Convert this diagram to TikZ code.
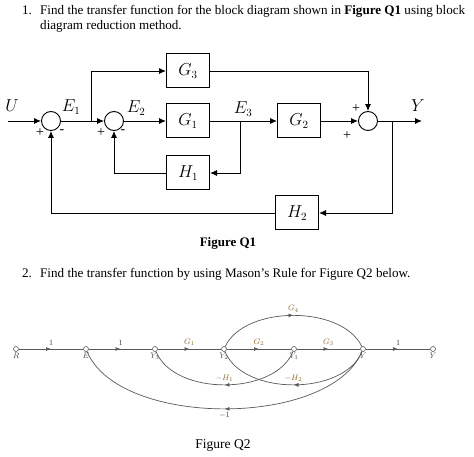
\documentclass[tikz,border=0pt]{standalone}
\usepackage{fontspec}
\setmainfont{Liberation Serif}
\usepackage{tikz}
\usetikzlibrary{arrows.meta,shapes,calc}
\usetikzlibrary{decorations.markings}
\definecolor{gaincol}{rgb}{0.55,0.42,0.18}
\definecolor{sfgline}{rgb}{0.35,0.35,0.35}
\tikzstyle{qtext}=[anchor=base west, inner sep=0pt, font=\fontsize{13.1}{16}\selectfont]
\tikzstyle{blk}=[draw, line width=1pt, minimum width=43pt, minimum height=34pt,
inner sep=0pt, font=\fontsize{16}{19}\selectfont]
\tikzstyle{blab}=[font=\fontsize{16}{19}\selectfont]
\tikzstyle{sgn}=[font=\fontsize{14}{16}\selectfont, inner sep=0pt]
\tikzstyle{summ}=[circle, draw, minimum size=19pt, inner sep=0pt, line width=0.9pt]
\tikzstyle{sig}=[-{Latex[length=7pt,width=6pt]}, line width=0.9pt]
\tikzstyle{sfnode}=[circle, draw=sfgline, fill=white, minimum size=5pt, inner sep=0pt, line width=0.6pt]
\tikzstyle{branch}=[sfgline, line width=0.7pt, postaction={decorate, decoration={markings,
mark=at position 0.5 with {\arrow{Latex[length=5pt,width=4pt]}}}}]
\tikzstyle{gain}=[font=\fontsize{8}{9}\selectfont, text=gaincol, inner sep=1pt]
\tikzstyle{vlab}=[font=\fontsize{8}{9}\selectfont, text=sfgline!80!black, inner sep=1pt]

\begin{document}
\begin{tikzpicture}[x=1pt, y=-1pt]
\useasboundingbox (0,0) rectangle (474,457);
% question texts
\node[qtext] (qonenum) at (22,15) {1.};
\node[qtext] (qone) at (40,15) {Find the transfer function for the block diagram shown in \textbf{Figure Q1} using block};
\node[qtext] (qonetwo) at (40,30) {diagram reduction method.};
\node[qtext] (qtwonum) at (22,277) {2.};
\node[qtext] (qtwo) at (40,277) {Find the transfer function by using Mason's Rule for Figure Q2 below.};

% block diagram Q1
\coordinate (u) at (8,121);
\node[summ] (sumone) at (51,121) {};
\coordinate (jone) at (91,121);
\node[summ] (sumtwo) at (114,121) {};
\node[blk] (gone) at (188,121) {$G_1$};
\node[blk] (gthree) at (188,71) {$G_3$};
\node[blk] (hone) at (188,173) {$H_1$};
\coordinate (ethree) at (240,121);
\node[blk] (gtwo) at (299,121) {$G_2$};
\node[summ] (sumthree) at (368,121) {};
\coordinate (ybr) at (392,121);
\coordinate (yend) at (422,121);
\node[blk] (htwo) at (297,213) {$H_2$};

\draw[sig] (u) -- (sumone.west);
\draw[sig] (sumone.east) -- (sumtwo.west);
\draw[sig] (jone) |- (gthree.west);
\draw[sig] (sumtwo.east) -- (gone.west);
\draw[sig] (gone.east) -- (gtwo.west);
\draw[sig] (ethree) |- (hone.east);
\draw[sig] (hone.west) -| (sumtwo.south);
\draw[sig] (gthree.east) -| (sumthree.north);
\draw[sig] (gtwo.east) -- (sumthree.west);
\draw[sig] (sumthree.east) -- (yend);
\draw[sig] (ybr) |- (htwo.east);
\draw[sig] (htwo.west) -| (sumone.south);

\node[blab] (ulab) at (12,106) {$U$};
\node[blab] (eonelab) at (71,107) {$E_1$};
\node[blab] (etwolab) at (136,108) {$E_2$};
\node[blab] (ethreelab) at (243,109) {$E_3$};
\node[blab] (ylab) at (418,106) {$Y$};
\node[sgn] (ponea) at (40,133) {+};
\node[sgn] (monea) at (62,132) {-};
\node[sgn] (ptwoa) at (101,133) {+};
\node[sgn] (mtwoa) at (123,132) {-};
\node[sgn] (pthreea) at (356,109) {+};
\node[sgn] (pthreeb) at (347,136) {+};
\node[font=\fontsize{13}{15}\selectfont\bfseries] (figone) at (228,243) {Figure Q1};

% signal flow graph Q2
\node[sfnode, label={[vlab]below:$R$}] (r) at (16,349) {};
\node[sfnode, label={[vlab]below:$E$}] (e) at (86,349) {};
\node[sfnode, label={[vlab]below:$Y_3$}] (ythree) at (155,349) {};
\node[sfnode, label={[vlab]below:$Y_2$}] (ytwo) at (224,349) {};
\node[sfnode, label={[vlab]below:$Y_1$}] (yone) at (294,349) {};
\node[sfnode, label={[vlab]below:$Y$}] (y) at (363,349) {};
\node[sfnode, label={[vlab]below:$Y$}] (yout) at (433,349) {};

\draw[branch] (r) -- node[vlab, above=2pt] {1} (e);
\draw[branch] (e) -- node[vlab, above=2pt] {1} (ythree);
\draw[branch] (ythree) -- node[gain, above=2pt] {$G_1$} (ytwo);
\draw[branch] (ytwo) -- node[gain, above=2pt] {$G_2$} (yone);
\draw[branch] (yone) -- node[gain, above=2pt] {$G_3$} (y);
\draw[branch] (y) -- node[vlab, above=2pt] {1} (yout);
\draw[branch] (ytwo) .. controls (245,305) and (342,305) .. node[gain, above=2pt] {$G_4$} (y);
\draw[branch] (yone) .. controls (275,396) and (174,396) .. node[gain, above=2pt] {$-H_1$} (ythree);
\draw[branch] (y) .. controls (344,396) and (243,396) .. node[gain, above=2pt] {$-H_2$} (ytwo);
\draw[branch] (y) .. controls (330,428) and (119,428) .. node[vlab, below=2pt] {$-1$} (e);
\node[font=\fontsize{13.5}{16}\selectfont] (figtwo) at (223,445) {Figure Q2};
\end{tikzpicture}
\end{document}
